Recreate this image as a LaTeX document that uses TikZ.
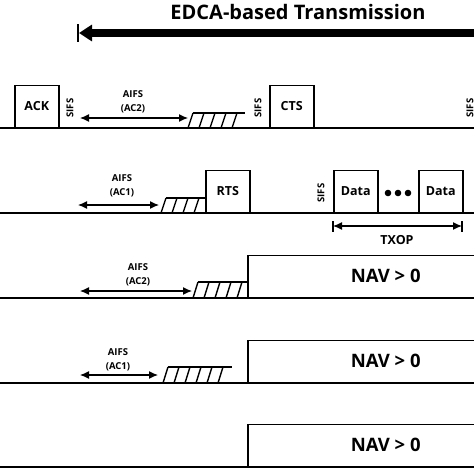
\documentclass[tikz,border=0pt]{standalone}
\usepackage{fontspec}
\setmainfont{Open Sans}
\usetikzlibrary{arrows.meta}

\newcommand{\sifsnode}[2]{\node[sifs] (#1) at (#2) {SIFS};}
\newcommand{\aifsnode}[3]{\node[aifs] (#1) at (#2) {AIFS\\(#3)};}
\newcommand{\navnode}[2]{\node[nav] (#1) at (#2) {NAV > 0};}
\newcommand{\pktnode}[3]{\node[frame] (#1) at (#2) {#3};}
\newcommand{\hatchbar}[5]{%
  \foreach \k in {1,...,#4}{\draw[hatch] ({#1+(\k-1)*11},#2) -- ++(5,{#3-#2});}
  \draw[hatch] ({#1+5},#3) -- (#5,#3);}

\begin{document}
\begin{tikzpicture}[x=1pt,y=-1pt,line width=1.5pt,
  frame/.style={draw,anchor=south west,minimum width=44pt,minimum height=42pt,
    inner sep=0pt,font=\bfseries\fontsize{12.5}{14}\selectfont},
  nav/.style={draw,anchor=south west,minimum width=276pt,minimum height=42pt,
    inner sep=0pt,font=\bfseries\fontsize{18.5}{20}\selectfont},
  sifs/.style={rotate=90,inner sep=0pt,font=\bfseries\fontsize{9.5}{10}\selectfont},
  aifs/.style={align=center,inner sep=0pt,font=\bfseries\fontsize{9.5}{14}\selectfont},
  span/.style={line width=1.2pt,{Latex[length=9pt,width=8pt]}-{Latex[length=9pt,width=8pt]}},
  hatch/.style={line width=1.4pt}]

  \useasboundingbox (0,0) rectangle (474,474);
  \clip (0,0) rectangle (474,474);

  \node[font=\bfseries\fontsize{20}{24}\selectfont] (title) at (298,12) {EDCA-based Transmission};
  \coordinate (edcaL) at (79,33);
  \coordinate (edcaR) at (480,33);
  \draw[line width=8pt,-{Triangle[length=13pt,width=16pt]}] (edcaR) -- (edcaL);
  \draw[line width=1.6pt] (78,24) -- (78,42);

  % row 1
  \draw (0,128) -- (474,128);
  \pktnode{ack}{14,128}{ACK}
  \pktnode{cts}{269,128}{CTS}
  \sifsnode{sifsA}{70,108}
  \sifsnode{sifsB}{258,108}
  \sifsnode{sifsC}{470,108}
  \aifsnode{aifsA}{133,102}{AC2}
  \coordinate (aA1) at (80,118);
  \coordinate (aA2) at (188,118);
  \draw[span] (aA1) -- (aA2);
  \hatchbar{188}{128}{113}{5}{245}

  % row 2
  \draw (0,213) -- (474,213);
  \pktnode{rts}{205,213}{RTS}
  \pktnode{dataA}{333,213}{Data}
  \pktnode{dataB}{418,213}{Data}
  \sifsnode{sifsD}{321,193}
  \aifsnode{aifsB}{122,186}{AC1}
  \coordinate (aB1) at (78,205);
  \coordinate (aB2) at (159,205);
  \draw[span] (aB1) -- (aB2);
  \hatchbar{161}{213}{198}{4}{205}
  \foreach \x in {388,398,408} \fill (\x,193) circle (3.3pt);
  \coordinate (txA) at (333,226);
  \coordinate (txB) at (462,226);
  \draw[span] (txA) -- (txB);
  \draw (333,221) -- (333,232);
  \draw (462,221) -- (462,232);
  \node[font=\bfseries\fontsize{12.5}{14}\selectfont] (txop) at (397,240) {TXOP};

  % row 3
  \draw (0,298) -- (474,298);
  \navnode{navA}{247,298}
  \aifsnode{aifsC}{138,275}{AC2}
  \coordinate (aC1) at (80,291);
  \coordinate (aC2) at (192,291);
  \draw[span] (aC1) -- (aC2);
  \hatchbar{193}{298}{282}{5}{247}

  % row 4
  \draw (0,383) -- (474,383);
  \navnode{navB}{247,383}
  \aifsnode{aifsD}{118,360}{AC1}
  \coordinate (aD1) at (80,375);
  \coordinate (aD2) at (158,375);
  \draw[span] (aD1) -- (aD2);
  \hatchbar{163}{383}{367}{6}{232}

  % row 5
  \draw (0,467) -- (474,467);
  \navnode{navC}{247,467}

\end{tikzpicture}
\end{document}
